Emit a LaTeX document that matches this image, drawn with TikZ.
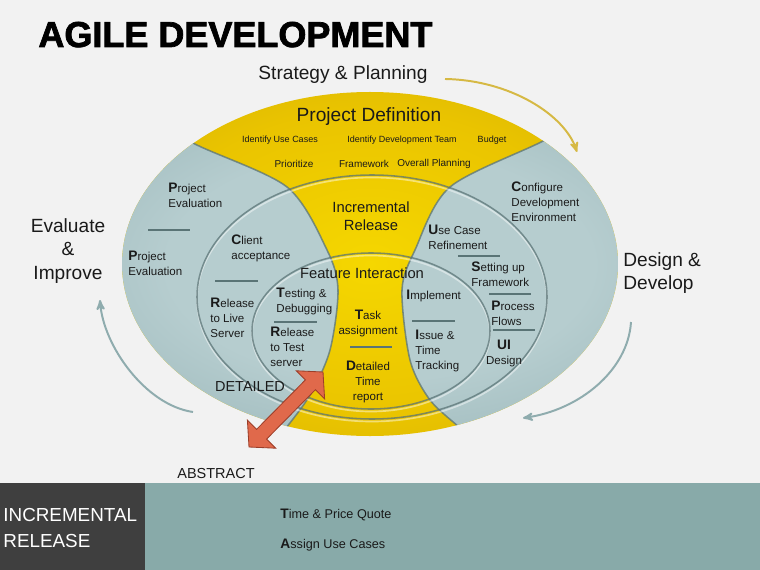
\documentclass[tikz,border=0pt]{standalone}
\usepackage{fontspec}
\setmainfont{Liberation Sans}
\newfontfamily\heavyfont[FakeBold=2]{Liberation Sans}
\usepackage{tikz}
\usetikzlibrary{arrows,shapes}
\definecolor{bgcol}{HTML}{F2F2F2}
\definecolor{agyellow}{HTML}{EAC400}
\definecolor{agyellowdk}{HTML}{BFA00C}
\definecolor{agyellowlt}{HTML}{F5D700}
\definecolor{agteal}{HTML}{B6CDCF}
\definecolor{agtealdk}{HTML}{8CABAE}
\definecolor{agline}{HTML}{5A7476}
\definecolor{agorange}{HTML}{E0694B}
\definecolor{agorangedk}{HTML}{9C3E29}
\definecolor{agarc}{HTML}{8FACAE}
\definecolor{aggold}{HTML}{D6B944}
\definecolor{agbanner}{HTML}{88AAA9}
\definecolor{agdark}{HTML}{3F3F3F}
\definecolor{agtext}{HTML}{1A1A1A}
\pgfdeclareradialshading{yellowring}{\pgfpoint{0bp}{0bp}}{color(0bp)=(agyellowlt); color(22bp)=(agyellow); color(50bp)=(agyellowdk)}
\pgfdeclareradialshading{tealring}{\pgfpoint{0bp}{0bp}}{color(0bp)=(agteal); color(14bp)=(agteal); color(34bp)=(agtealdk); color(50bp)=(agtealdk)}
\newcommand{\ini}[1]{{\fontsize{9.8}{10.7}\selectfont\bfseries #1}}

\begin{document}
\begin{tikzpicture}[x=0.025cm,y=-0.025cm,>=stealth',semithick,every node/.style={text=agtext,inner sep=0pt}]
 \tikzstyle{lbl}=[font=\fontsize{8.2}{10.7}\selectfont,align=left,anchor=north west]
 \tikzstyle{lblc}=[font=\fontsize{8.2}{10.7}\selectfont,align=center]
 \tikzstyle{band}=[font=\fontsize{6.4}{8}\selectfont]
 \tikzstyle{bandb}=[font=\fontsize{7.1}{8}\selectfont]
 \tikzstyle{head}=[font=\fontsize{13.6}{16.4}\selectfont]
 \tikzstyle{mid}=[font=\fontsize{10.5}{12.8}\selectfont,align=center]
 \tikzstyle{caps}=[font=\fontsize{10.3}{12}\selectfont]
 \tikzstyle{sep}=[draw=agline,line width=0.8pt]
 \tikzstyle{ring}=[draw=agline,line width=1.1pt,opacity=0.75]
 \tikzstyle{glow}=[draw=white,line width=1.2pt,opacity=0.45]
 \tikzstyle{cycle arc}=[->,draw=agarc,line width=1.4pt]
 \tikzstyle{plan arc}=[->,draw=aggold,line width=1.4pt]

 \useasboundingbox (0,0) rectangle (760,570);
 \fill[bgcol] (0,0) rectangle (760,570);

 % the rings
 \shade[shading=yellowring] (370,264) ellipse [x radius=248,y radius=172];
 \begin{scope}
  \clip (370,264) ellipse [x radius=248,y radius=172];
  \shade[shading=tealring]
   plot[smooth] coordinates {(150,112) (193,143) (287,187) (327,250) (338,290) (330,350) (310,395) (283,432) (268,452)} -- (0,470) -- (0,60) -- cycle
   plot[smooth] coordinates {(590,110) (545,140) (450,187) (415,250) (402,290) (410,360) (430,400) (462,430) (476,448)} -- (760,470) -- (760,60) -- cycle;
  \draw[ring] plot[smooth] coordinates {(150,112) (193,143) (287,187) (327,250) (338,290) (330,350) (310,395) (283,432) (268,452)};
  \draw[ring] plot[smooth] coordinates {(590,110) (545,140) (450,187) (415,250) (402,290) (410,360) (430,400) (462,430) (476,448)};
  \draw[glow] (372,299.5) ellipse [x radius=175,y radius=122];
  \draw[ring] (372,297) ellipse [x radius=175,y radius=122];
  \draw[glow] (371,333.5) ellipse [x radius=119,y radius=78];
  \draw[ring] (371,331) ellipse [x radius=119,y radius=78];
 \end{scope}

 % titles and phases
 \node[font=\fontsize{25.6}{30}\selectfont\heavyfont\bfseries,text=black,anchor=base west] (title) at (38,47) {AGILE DEVELOPMENT};
 \node[head,anchor=base west] (strat) at (258,80) {Strategy \& Planning};
 \node[head,align=center] (eval) at (68,251) {Evaluate\\\&\\Improve};
 \node[head,align=left,anchor=north west] (design) at (623,252) {Design \&\\Develop};

 % project definition band
 \node[head] (pdef) at (369,117) {Project Definition};
 \node[band] (usecases) at (280,140) {Identify Use Cases};
 \node[band] (team) at (402,140) {Identify Development Team};
 \node[band] (budget) at (492,140) {Budget};
 \node[bandb] (prio) at (294,164) {Prioritize};
 \node[bandb] (frame) at (364,164) {Framework};
 \node[bandb] (plan) at (434,164) {Overall Planning};
 \node[mid] (incr) at (371,216) {Incremental\\Release};
 \node[mid] (feat) at (362,273) {Feature Interaction};

 % left side
 \node[lbl] (pe1) at (168,183) {\ini{P}roject\\Evaluation};
 \draw[sep] (148,230) -- (190,230);
 \node[lbl] (pe2) at (128,251) {\ini{P}roject\\Evaluation};
 \node[lbl] (ca) at (231,234) {\ini{C}lient\\acceptance};
 \draw[sep] (215,281) -- (258,281);
 \node[lbl] (rl) at (210,298) {\ini{R}elease\\to Live\\Server};
 \node[lbl] (td) at (276,288) {\ini{T}esting \&\\Debugging};
 \draw[sep] (274,322) -- (317,322);
 \node[lbl] (rt) at (270,327) {\ini{R}elease\\to Test\\server};

 % middle
 \node[lblc] (ta) at (368,323) {\ini{T}ask\\assignment};
 \draw[sep] (350,347) -- (392,347);
 \node[lblc] (dt) at (368,382) {\ini{D}etailed\\Time\\report};

 % right side
 \node[lbl] (im) at (406,290) {\ini{I}mplement};
 \draw[sep] (412,321) -- (455,321);
 \node[lbl] (it) at (415,330) {\ini{I}ssue \&\\Time\\Tracking};
 \node[lbl] (uc) at (428,225) {\ini{U}se Case\\Refinement};
 \draw[sep] (458,256) -- (500,256);
 \node[lbl] (su) at (471,261) {\ini{S}etting up\\Framework};
 \draw[sep] (489,294) -- (531,294);
 \node[lbl] (pf) at (491,301) {\ini{P}rocess\\Flows};
 \draw[sep] (493,330) -- (535,330);
 \node[lblc] (ui) at (504,353) {\ini{UI}\\Design};
 \node[lbl] (cd) at (511,181) {\ini{C}onfigure\\Development\\Environment};

 % cycle arrows
 \coordinate (sp1) at (445,79);
 \coordinate (sp2) at (577,152);
 \coordinate (dd1) at (631,322);
 \coordinate (dd2) at (523,418);
 \coordinate (ev1) at (193,412);
 \coordinate (ev2) at (100,300);
 \draw[plan arc] (sp1) .. controls (510,80) and (565,115) .. (sp2);
 \draw[cycle arc] (dd1) .. controls (628,370) and (580,410) .. (dd2);
 \draw[cycle arc] (ev1) .. controls (145,405) and (103,345) .. (ev2);

 % detailed / abstract
 \filldraw[fill=agorange,draw=agorangedk,line width=0.6pt]
  (323,372) -- (324.6,398.8) -- (315.4,389.7) -- (266.6,439.1) -- (275.8,448.2)
  -- (249,447) -- (247.4,420.2) -- (256.6,429.3) -- (305.4,379.9) -- (296.2,370.8) -- cycle;
 \node[caps] (det) at (250,387) {DETAILED};
 \node[caps] (abs) at (216,474) {ABSTRACT};

 % bottom banner
 \fill[agbanner] (0,483) rectangle (760,570);
 \fill[agdark] (0,483) rectangle (145,570);
 \node[font=\fontsize{13.4}{18.5}\selectfont,text=white,align=left,anchor=north west] (incrrel) at (3,508) {INCREMENTAL\\RELEASE};
 \node[font=\fontsize{9}{11}\selectfont,anchor=west] (quote) at (280,515) {\ini{T}ime \& Price Quote};
 \node[font=\fontsize{9}{11}\selectfont,anchor=west] (assign) at (280,545) {\ini{A}ssign Use Cases};
\end{tikzpicture}
\end{document}
